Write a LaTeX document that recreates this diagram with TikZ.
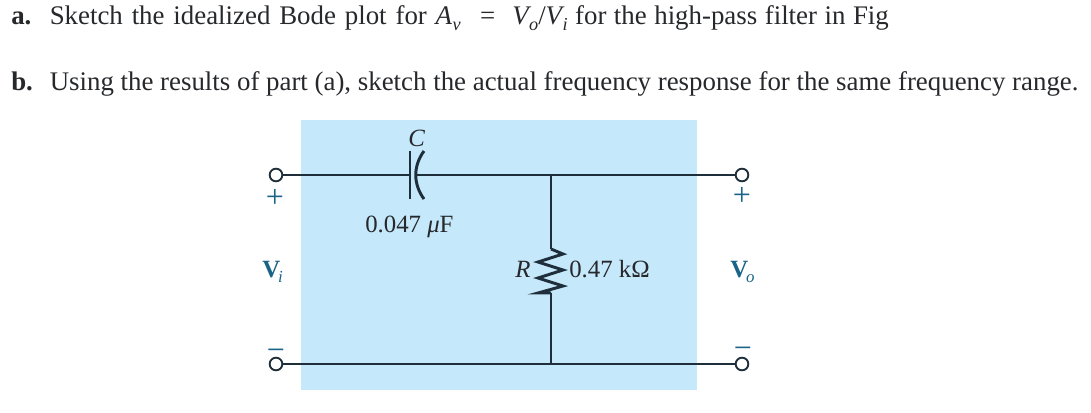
\documentclass[tikz,border=0pt]{standalone}
\usepackage{fontspec}
\setmainfont{Liberation Serif}
\definecolor{boxblue}{HTML}{C5E8FA}
\definecolor{wirecol}{HTML}{1E2E3A}
\definecolor{labelcol}{HTML}{1A6488}
\definecolor{textcol}{HTML}{26282B}
\newcommand{\lowsub}[1]{\kern-0.08em\raisebox{-0.24em}{\scalebox{0.68}{\textit{#1}}}}
\tikzset{>=stealth,
  term/.style={circle, draw=wirecol, fill=white, line width=1.4pt, minimum size=9.5pt, inner sep=0pt},
  wire/.style={draw=wirecol, line width=1.5pt},
  platewire/.style={draw=wirecol, line width=2.2pt},
  parttext/.style={anchor=base west, inner sep=0pt, text=textcol, font=\fontsize{20.15}{24}\selectfont},
  circtext/.style={anchor=base west, inner sep=0pt, text=textcol, font=\fontsize{18.6}{22}\selectfont},
  signtext/.style={inner sep=0pt, text=labelcol, font=\fontsize{24}{28}\selectfont}}

\begin{document}
\begin{tikzpicture}[x=0.75pt, y=-0.75pt]
    \useasboundingbox (0,0) rectangle (1091,412);
    \fill[boxblue] (301,120) rectangle (697,390);
    % terminals
    \node[term] (vip) at (276,175) {};
    \node[term] (vim) at (276,364) {};
    \node[term] (vop) at (742,175) {};
    \node[term] (vom) at (742,364) {};
    \coordinate (plate1) at (410,175);
    \coordinate (plate2) at (416,175);
    \coordinate (plate1t) at (410,151);
    \coordinate (plate1b) at (410,199);
    \coordinate (plate2t) at (424,151);
    \coordinate (plate2b) at (424,199);
    \coordinate (plate2c) at (413,166);
    \coordinate (plate2d) at (413,184);
    \coordinate (top) at (551,175);
    \coordinate (bot) at (551,364);
    \coordinate (rtop) at (551,249);
    \coordinate (rbot) at (551,293);
    % wires
    \draw[wire] (vip) -- (plate1);
    \draw[wire] (plate2) -- (top) -- (vop);
    \draw[wire] (vim) -- (bot) -- (vom);
    \draw[wire] (top) -- (rtop);
    \draw[wire] (rbot) -- (bot);
    \draw[platewire] (plate1t) -- (plate1b);
    \draw[platewire] (plate2t) .. controls (plate2c) and (plate2d) .. (plate2b);
    \draw[platewire, line join=miter] (rtop) -- ++(12,5) -- ++(-25,8) -- ++(25,8) -- ++(-25,8) -- ++(25,8) -- ++(-25,7) -- (rbot);
    % labels
    \node[circtext] (capname) at (408,146) {\textit{C}};
    \node[circtext] (capval) at (365,232) {0.047 \textit{μ}F};
    \node[circtext] (resname) at (515,277) {\textit{R}};
    \node[circtext] (resval) at (569,277) {0.47 kΩ};
    \node[signtext] (plusi) at (275,198) {+};
    \node[signtext] (minusi) at (276,355) {−};
    \node[signtext] (pluso) at (742,196) {+};
    \node[signtext] (minuso) at (743,353) {−};
    \node[circtext, text=labelcol] (vilabel) at (262,277) {\textbf{V}\lowsub{i}};
    \node[circtext, text=labelcol] (volabel) at (730,277) {\textbf{V}\lowsub{o}};
    % the two questions
    \node[parttext] (parta) at (11,24) {\textbf{a.}};
    \node[parttext] (textb) at (49.5,24) {\spaceskip=0.33em Sketch the idealized Bode plot for \textit{A}\kern0.1em\lowsub{v}\kern0.72em = \kern0.3em\textit{V}\lowsub{o}/\textit{V}\lowsub{i}\spaceskip=0.28em{} for the high-pass filter in Fig};
    \node[parttext] (partb) at (11,90) {\textbf{b.}};
    \node[parttext] (textc) at (49.5,90) {Using the results of part (a), sketch the actual frequency response for the same frequency range.};
\end{tikzpicture}
\end{document}
